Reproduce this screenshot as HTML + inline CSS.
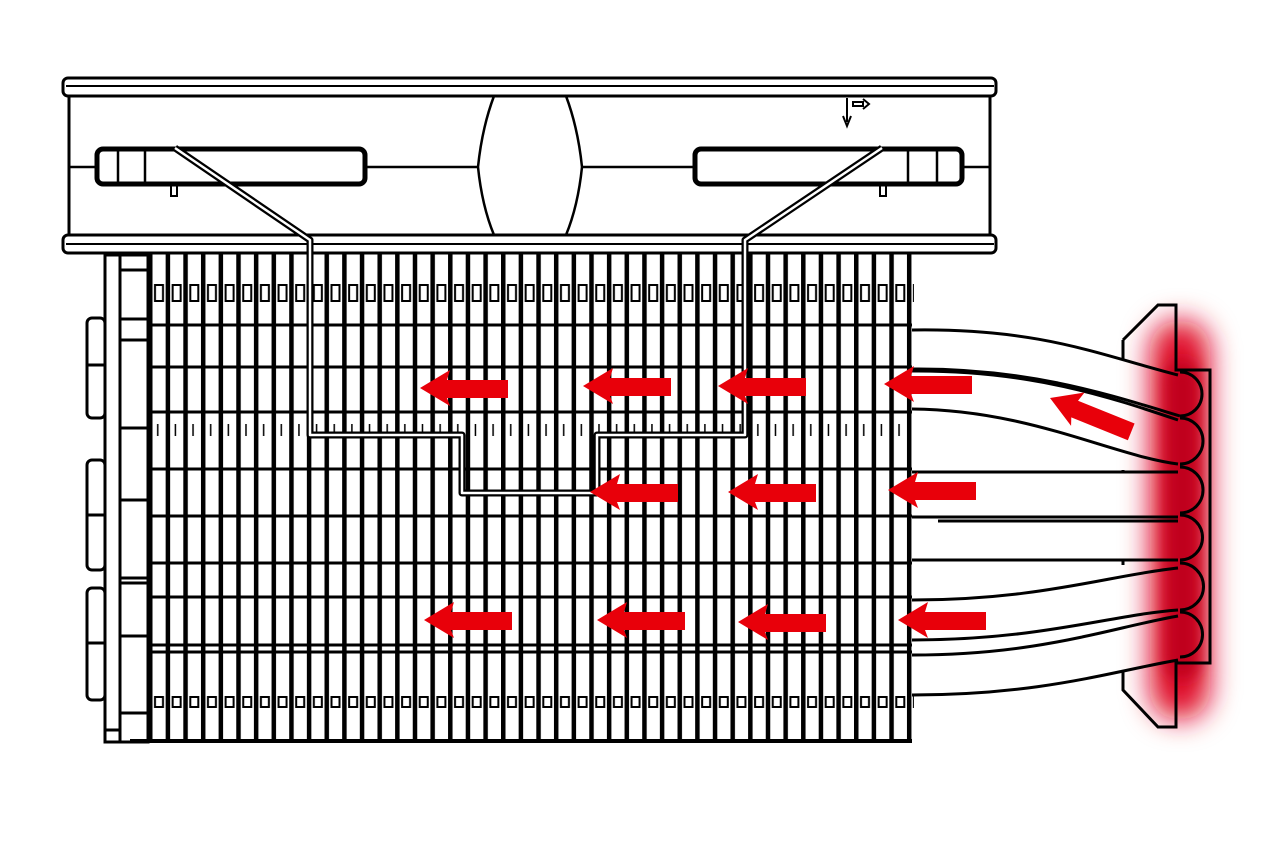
<!DOCTYPE html>
<html><head><meta charset="utf-8"><style>html,body{margin:0;padding:0;background:#fff;}svg{display:block}</style></head>
<body>
<svg width="1280" height="855" viewBox="0 0 1280 855" xmlns="http://www.w3.org/2000/svg">
<defs>
<pattern id="fins" x="148" y="0" width="17.65" height="855" patternUnits="userSpaceOnUse">
<rect x="0" y="0" width="4.5" height="855" fill="#000"/>
</pattern>
<pattern id="slots" x="148" y="0" width="17.65" height="855" patternUnits="userSpaceOnUse">
<rect x="7" y="285" width="8" height="16" fill="none" stroke="#000" stroke-width="2"/>
<rect x="7" y="697" width="8" height="10" fill="none" stroke="#000" stroke-width="2"/>
<rect x="9" y="424" width="1.5" height="12" fill="#000"/>
</pattern>
<filter id="blur" x="-100%" y="-30%" width="300%" height="160%"><feGaussianBlur stdDeviation="14"/></filter>
<filter id="blur2" x="-100%" y="-30%" width="300%" height="160%"><feGaussianBlur stdDeviation="8"/></filter>
</defs>

<!-- red glow -->
<rect x="1150" y="320" width="60" height="400" rx="30" fill="#e0102a" filter="url(#blur)"/>
<rect x="1165" y="360" width="35" height="320" rx="17" fill="#c0001a" filter="url(#blur2)"/>

<!-- fan frame -->
<g fill="none" stroke="#000" stroke-width="3">
<rect x="63" y="78" width="933" height="18" rx="5"/>
<line x1="66" y1="86" x2="994" y2="86" stroke-width="2"/>
<rect x="63" y="235" width="933" height="18" rx="5"/>
<line x1="66" y1="244" x2="994" y2="244" stroke-width="2"/>
<line x1="69" y1="96" x2="69" y2="235"/>
<line x1="990" y1="96" x2="990" y2="235"/>
<line x1="69" y1="167" x2="97" y2="167" stroke-width="2.5"/>
<line x1="365" y1="167" x2="478" y2="167" stroke-width="2.5"/>
<line x1="582" y1="167" x2="695" y2="167" stroke-width="2.5"/>
<line x1="962" y1="167" x2="990" y2="167" stroke-width="2.5"/>
<path d="M494 96 Q482 128 478 167 Q482 206 494 235 M566 96 Q578 128 582 167 Q578 206 566 235" stroke-width="2.5"/>
</g>
<g fill="none" stroke="#000">
<rect x="97" y="149" width="268" height="35" rx="6" stroke-width="5"/>
<line x1="118" y1="151" x2="118" y2="182" stroke-width="2.5"/>
<line x1="145" y1="151" x2="145" y2="182" stroke-width="2.5"/>
<rect x="171" y="184" width="6" height="12" stroke-width="2"/>
<rect x="695" y="149" width="267" height="35" rx="6" stroke-width="5"/>
<line x1="908" y1="151" x2="908" y2="182" stroke-width="2.5"/>
<line x1="937" y1="151" x2="937" y2="182" stroke-width="2.5"/>
<rect x="880" y="184" width="6" height="12" stroke-width="2"/>
</g>
<!-- small icon -->
<g stroke="#000" fill="none" stroke-width="2">
<line x1="847" y1="98" x2="847" y2="122"/>
<path d="M843 116 L847 126 L851 116"/>
<rect x="853" y="102" width="10" height="4"/>
<path d="M863 99 L869 104 L863 109"/>
</g>

<!-- left side plates -->
<g fill="none" stroke="#000" stroke-width="3">
<rect x="105" y="255" width="15" height="487"/>
<rect x="120" y="255" width="28" height="487"/>
<line x1="120" y1="270" x2="148" y2="270"/>
<line x1="120" y1="319" x2="148" y2="319"/>
<line x1="120" y1="340" x2="148" y2="340"/>
<line x1="120" y1="428" x2="148" y2="428"/>
<line x1="120" y1="500" x2="148" y2="500"/>
<line x1="120" y1="578" x2="148" y2="578"/>
<line x1="120" y1="583" x2="148" y2="583"/>
<line x1="120" y1="636" x2="148" y2="636"/>
<line x1="120" y1="713" x2="148" y2="713"/>
<line x1="105" y1="730" x2="120" y2="730"/>
<rect x="87" y="318" width="18" height="100" rx="5"/>
<line x1="87" y1="365" x2="105" y2="365"/>
<rect x="87" y="460" width="18" height="110" rx="5"/>
<line x1="87" y1="515" x2="105" y2="515"/>
<rect x="87" y="588" width="18" height="112" rx="5"/>
<line x1="87" y1="643" x2="105" y2="643"/>
</g>

<!-- fins -->
<rect x="148" y="253" width="766" height="487" fill="url(#fins)"/>
<rect x="148" y="253" width="766" height="487" fill="url(#slots)"/>
<g stroke="#000" stroke-width="3">
<line x1="148" y1="325" x2="912" y2="325"/>
<line x1="148" y1="367" x2="912" y2="367"/>
<line x1="148" y1="412" x2="912" y2="412"/>
<line x1="148" y1="469" x2="912" y2="469"/>
<line x1="148" y1="516" x2="912" y2="516"/>
<line x1="148" y1="563" x2="912" y2="563"/>
<line x1="148" y1="597" x2="912" y2="597"/>
<line x1="148" y1="645" x2="912" y2="645"/>
<line x1="148" y1="652" x2="912" y2="652"/>
<line x1="130" y1="741" x2="912" y2="741" stroke-width="4"/>
<line x1="909" y1="253" x2="909" y2="741" stroke-width="4"/>
</g>

<!-- clip wires (double lines) -->
<g fill="none" stroke-linejoin="round">
<path d="M175 148 L310 240 L310 435 L462 435 L462 493 L597 493 L597 435 L745 435 L745 240 L882 148" stroke="#000" stroke-width="7"/>
<path d="M175 148 L310 240 L310 435 L462 435 L462 493 L597 493 L597 435 L745 435 L745 240 L882 148" stroke="#fff" stroke-width="2.5"/>
</g>

<!-- heat pipes -->
<g fill="none" stroke="#000" stroke-width="3">
<path d="M1123 340 L1158 305 L1176 305 L1176 370 L1210 370 L1210 663 L1176 663 L1176 727 L1158 727 L1123 690 L1123 672"/>
<line x1="1123" y1="340" x2="1123" y2="360"/>
<line x1="1123" y1="470" x2="1123" y2="472"/>
<line x1="1123" y1="560" x2="1123" y2="565"/>
<path d="M912 330 C1040 328 1100 355 1178 375"/>
<path d="M912 369 C1030 368 1110 395 1180 416"/>
<path d="M912 371 C1030 370 1110 397 1178 420"/>
<path d="M912 409 C1030 410 1110 455 1178 464"/>
<line x1="912" y1="472" x2="1178" y2="472"/>
<line x1="912" y1="517" x2="1178" y2="517"/>
<line x1="938" y1="521" x2="1178" y2="521"/>
<line x1="912" y1="560" x2="1178" y2="560"/>
<path d="M912 600 C1040 600 1110 575 1178 568"/>
<path d="M912 640 C1040 640 1110 615 1178 610"/>
<path d="M912 655 C1040 655 1110 628 1178 616"/>
<path d="M912 695 C1040 695 1110 672 1178 660"/>
<path d="M1180 372 A22 22 0 0 1 1180 416 M1180 418 A22 22 0 0 1 1180 464 M1180 467 A22 22 0 0 1 1180 513 M1180 515 A22 22 0 0 1 1180 560 M1180 563 A22 22 0 0 1 1180 610 M1180 612 A22 22 0 0 1 1180 657"/>
</g>

<!-- red arrows -->
<g fill="#e8000a">
<path d="M0 0 L30 -18 L27 -8 L88 -8 L88 10 L27 10 L30 18 Z" transform="translate(420,388)"/>
<path d="M0 0 L30 -18 L27 -8 L88 -8 L88 10 L27 10 L30 18 Z" transform="translate(583,386)"/>
<path d="M0 0 L30 -18 L27 -8 L88 -8 L88 10 L27 10 L30 18 Z" transform="translate(718,386)"/>
<path d="M0 0 L30 -18 L27 -8 L88 -8 L88 10 L27 10 L30 18 Z" transform="translate(884,384)"/>
<path d="M0 0 L30 -18 L27 -8 L88 -8 L88 10 L27 10 L30 18 Z" transform="translate(1050,398) rotate(22)"/>
<path d="M0 0 L30 -18 L27 -8 L88 -8 L88 10 L27 10 L30 18 Z" transform="translate(590,492)"/>
<path d="M0 0 L30 -18 L27 -8 L88 -8 L88 10 L27 10 L30 18 Z" transform="translate(728,492)"/>
<path d="M0 0 L30 -18 L27 -8 L88 -8 L88 10 L27 10 L30 18 Z" transform="translate(888,490)"/>
<path d="M0 0 L30 -18 L27 -8 L88 -8 L88 10 L27 10 L30 18 Z" transform="translate(424,620)"/>
<path d="M0 0 L30 -18 L27 -8 L88 -8 L88 10 L27 10 L30 18 Z" transform="translate(597,620)"/>
<path d="M0 0 L30 -18 L27 -8 L88 -8 L88 10 L27 10 L30 18 Z" transform="translate(738,622)"/>
<path d="M0 0 L30 -18 L27 -8 L88 -8 L88 10 L27 10 L30 18 Z" transform="translate(898,620)"/>
</g>
</svg>
</body></html>
